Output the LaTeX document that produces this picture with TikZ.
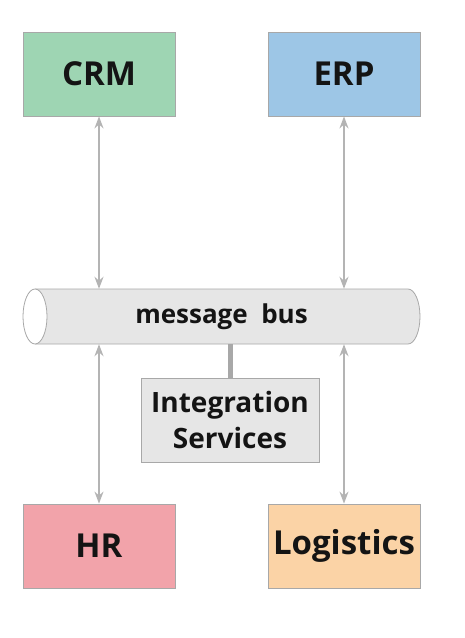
\documentclass[tikz,border=0pt]{standalone}
\usepackage{fontspec}
\setmainfont{Open Sans}
\usetikzlibrary{shapes.geometric,arrows.meta}
\definecolor{crmc}{HTML}{9ED5B3}
\definecolor{erpc}{HTML}{9DC6E6}
\definecolor{hrc}{HTML}{F2A3AA}
\definecolor{logc}{HTML}{FBD3A6}
\definecolor{busc}{HTML}{E6E6E6}
\definecolor{edgec}{HTML}{A8A8A8}
\definecolor{arrc}{HTML}{B4B4B4}
\definecolor{txtc}{HTML}{141414}
\begin{document}
\begin{tikzpicture}[x=1pt,y=1pt,
  sysbox/.style={draw=edgec, line width=0.8pt, minimum width=152pt, minimum height=84pt, inner sep=0pt, font=\fontsize{33}{34}\selectfont\bfseries, text=txtc},
  link/.style={draw=arrc, line width=1.8pt, {Stealth[length=12pt,width=9pt]}-{Stealth[length=12pt,width=9pt]}}
]
\useasboundingbox (0,0) rectangle (464,-638);
\node[sysbox, fill=crmc] (crm) at (99,-74) {CRM};
\node[sysbox, fill=erpc] (erp) at (344,-74) {\raisebox{-3pt}{ERP}};
\node[sysbox, fill=hrc] (hr) at (99,-546) {\raisebox{-2pt}{HR}};
\node[sysbox, fill=logc] (log) at (344,-546) {\raisebox{-2pt}{Logistics}};
% bus
\fill[busc] (35,-289) -- (408,-289) arc[start angle=90, end angle=-90, x radius=12, y radius=27.5] -- (35,-344) -- cycle;
\draw[edgec, line width=0.8pt] (35,-289) -- (408,-289) arc[start angle=90, end angle=-90, x radius=12, y radius=27.5] -- (35,-344);
\draw[edgec, line width=0.8pt, fill=white] (35,-316.5) ellipse[x radius=12, y radius=27.5];
\node[minimum width=397pt, minimum height=55pt, inner sep=0pt, font=\fontsize{26}{28}\selectfont\bfseries, text=txtc] (bus) at (221.5,-316.5) {\raisebox{-2pt}{message\ \ bus}};
\node[draw=edgec, fill=busc, line width=0.8pt, minimum width=178pt, minimum height=84pt, inner sep=0pt, align=center, font=\fontsize{28}{36}\selectfont\bfseries, text=txtc] (is) at (230,-420) {Integration\\Services};
\draw[edgec, line width=5pt] (is.north) -- (is.north |- bus.south);
\draw[link] (crm.south) -- (crm.south |- bus.north);
\draw[link] (erp.south) -- (erp.south |- bus.north);
\draw[link] (hr.north |- bus.south) -- (hr.north);
\draw[link] (log.north |- bus.south) -- (log.north);
\end{tikzpicture}
\end{document}
